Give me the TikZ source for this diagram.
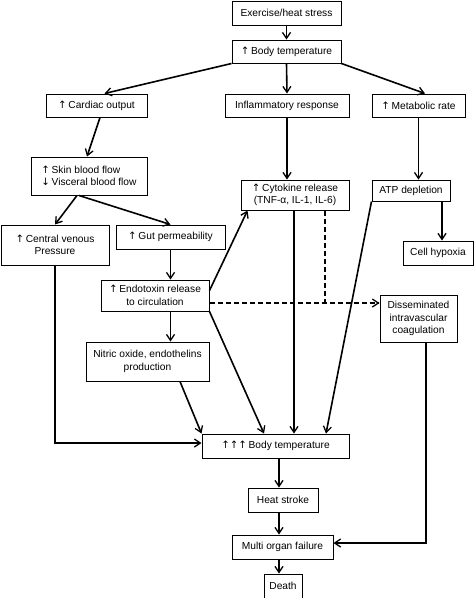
\documentclass[tikz,border=0pt]{standalone}
\usepackage{fontspec}
\setmainfont{Liberation Sans}
\newfontfamily\arrfont{DejaVu Sans}
\usetikzlibrary{arrows.meta,calc}
\newcommand{\upar}{{\arrfont\char"2191}}
\newcommand{\dnar}{{\arrfont\char"2193}}
\begin{document}
\begin{tikzpicture}[x=1pt,y=-1pt,
  box/.style 2 args={draw,line width=1pt,minimum width=#1pt,minimum height=#2pt,inner sep=1pt,align=center,font=\fontsize{10.2}{12.5}\selectfont},
  arr/.style={-{Straight Barb[length=6pt,width=8pt,line width=1.3pt]},line width=1.6pt},
  thickarr/.style={-{Straight Barb[length=6pt,width=8pt,line width=1.3pt]},line width=2.4pt},
  dasharr/.style={-{Straight Barb[length=6pt,width=8pt,line width=1.3pt]},line width=2pt,dash pattern=on 5pt off 3pt}]
\useasboundingbox (0,0) rectangle (474,598);
\fill[white] (0,0) rectangle (474,598);
\node[box={109}{24}] (ex) at (286.5,13) {Exercise/heat stress};
\node[box={109}{23}] (bt) at (286.5,51.5) {\upar\,Body temperature};
\node[box={101}{23}] (co) at (96.5,105.5) {\upar\,Cardiac output};
\node[box={124}{23}] (inf) at (287,105.5) {Inflammatory response};
\node[box={93}{23}] (met) at (418.5,105.5) {\upar\,Metabolic rate};
\node[box={116}{38},align=left] (skin) at (89,176) {\upar\,Skin blood flow\\\dnar\,Visceral blood flow};
\node[box={108}{30}] (cyt) at (295,195) {\upar\,Cytokine release\\(TNF-α, IL-1, IL-6)};
\node[box={78}{21}] (atp) at (411,190.5) {ATP depletion};
\node[box={70}{24}] (hyp) at (438,253) {Cell hypoxia};
\node[box={108}{40}] (cvp) at (55,245) {\upar\,Central venous\\Pressure};
\node[box={109}{24}] (gut) at (170.5,237) {\upar\,Gut permeability};
\node[box={108}{31}] (endo) at (155,295.5) {\upar\,Endotoxin release\\to circulation};
\node[box={77}{47}] (dic) at (418.5,318.5) {Disseminated\\intravascular\\coagulation};
\node[box={123}{39}] (no) at (147.5,361.5) {Nitric oxide, endothelins\\production};
\node[box={147}{24}] (bt3) at (275.5,446) {\upar\upar\upar\,Body temperature};
\node[box={70}{24}] (hs) at (283,500) {Heat stroke};
\node[box={101}{24}] (mof) at (282.5,547) {Multi organ failure};
\node[box={38}{24}] (death) at (283,586) {Death};
% connectors
\draw[arr] (ex.south) -- (bt.north);
\draw[arr] (bt.south west) -- ($(co.north)+(8,0)$);
\draw[arr] (bt.south) -- (inf.north);
\draw[arr] (bt.south east) -- ($(met.north)+(6.5,0)$);
\draw[arr] ($(co.south)+(3.5,0)$) -- ($(skin.north)+(-2,0)$);
\draw[arr] ($(skin.south)+(-12,0)$) -- (cvp.north);
\draw[arr] ($(skin.south)+(-10,0)$) -- (gut.north);
\draw[arr] (inf.south) -- (inf.south |- cyt.north);
\draw[arr] (met.south) -- (met.south |- atp.north);
\draw[arr] ($(atp.south)+(31,0)$) -- ($(hyp.north)+(4,0)$);
\draw[arr] (gut.south) -- (gut.south |- endo.north);
\draw[arr] ($(endo.east)+(0,-5)$) -- ($(cyt.south west)+(7,0)$);
\draw[arr] (endo.south -| gut.south) -- (gut.south |- no.north);
\draw[dasharr] ($(endo.east)+(0,7.5)$) -- (dic.west |- {$(endo.east)+(0,7.5)$});
\draw[dasharr,-] ($(cyt.south)+(30,0)$) coordinate (dtop) -- (dtop |- {$(endo.east)+(0,7.5)$});
\draw[arr] (endo.south east) -- ($(bt3.north)+(-11.5,0)$);
\draw[arr] ($(no.south)+(32.5,0)$) -- ($(bt3.north west)+(0,0)$);
\draw[arr] ($(cyt.south)+(-1,0)$) -- ($(bt3.north)+(18.5,0)$);
\draw[arr] (atp.south west) -- ($(bt3.north)+(50.5,0)$);
\draw[thickarr] (cvp.south) |- ($(bt3.west)+(0,-3)$);
\draw[thickarr] ($(dic.south)+(7.5,0)$) |- ($(mof.east)+(0,-4)$);
\draw[arr] ($(bt3.south)+(3.5,0)$) -- ($(hs.north)+(-4,0)$);
\draw[arr] ($(hs.south)+(-4,0)$) -- ($(mof.north)+(-3.5,0)$);
\draw[arr] ($(mof.south)+(-3.5,0)$) -- ($(death.north)+(-4,0)$);
\end{tikzpicture}
\end{document}
